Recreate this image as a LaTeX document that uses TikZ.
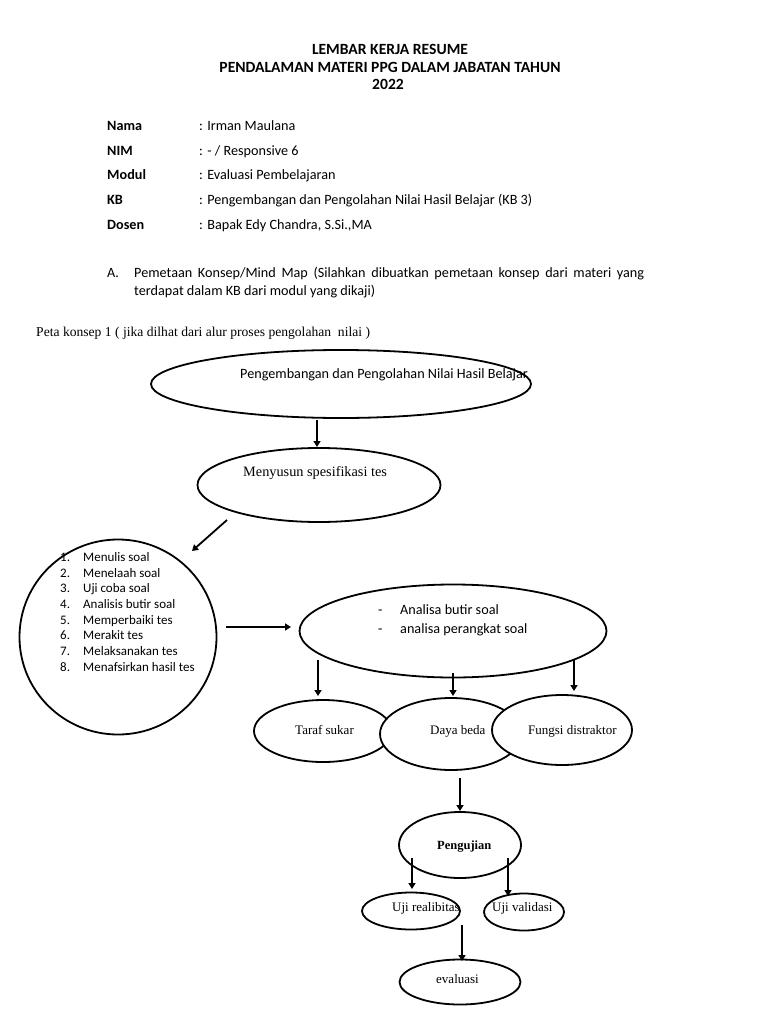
\documentclass[tikz,border=0pt]{standalone}
\usepackage{fontspec}
\setmainfont{Carlito}
\newfontfamily\timesf{Liberation Serif}
\usetikzlibrary{shapes.geometric,arrows.meta}
\tikzset{
  oval/.style={draw, fill=white, ellipse, line width=1.8pt, inner sep=0pt},
  conn/.style={line width=1.8pt, -{Triangle[length=6pt,width=7pt]}},
  txt/.style={inner sep=0pt, anchor=mid west, font=\fontsize{14.2}{17}\selectfont},
  ttl/.style={inner sep=0pt, anchor=mid, font=\fontsize{15.6}{18}\selectfont\bfseries},
  lbl/.style={inner sep=0pt, anchor=mid west, font=\fontsize{14.2}{17}\selectfont\bfseries},
  tm/.style={inner sep=0pt, anchor=mid west, font=\timesf\fontsize{13}{15}\selectfont},
  lst/.style={inner sep=0pt, anchor=mid west, font=\fontsize{13}{15}\selectfont}
}
\begin{document}
\begin{tikzpicture}[x=1pt,y=-1pt]
\useasboundingbox[fill=white] (0,0) rectangle (768,1024);
% header
\node[ttl] (t1) at (390,52) {LEMBAR KERJA RESUME};
\node[ttl] (t2) at (390,70) {PENDALAMAN MATERI PPG DALAM JABATAN TAHUN};
\node[ttl] (t3) at (388,87) {2022};
\node[lbl] (l1) at (107,128) {Nama};
\node[lbl] (l2) at (107,153) {NIM};
\node[lbl] (l3) at (107,177) {Modul};
\node[lbl] (l4) at (107,202) {KB};
\node[lbl] (l5) at (107,227) {Dosen};
\node[txt] (v1) at (199,128) {: Irman Maulana};
\node[txt] (v2) at (199,153) {: - / Responsive 6};
\node[txt] (v3) at (199,177) {: Evaluasi Pembelajaran};
\node[txt] (v4) at (199,202) {: Pengembangan dan Pengolahan Nilai Hasil Belajar (KB 3)};
\node[txt] (v5) at (199,227) {: Bapak Edy Chandra, S.Si.,MA};
\node[txt] (a0) at (107,275) {A.};
\node[txt] (a1) at (134,275) {\makebox[510pt][s]{Pemetaan Konsep/Mind Map (Silahkan dibuatkan pemetaan konsep dari materi yang}};
\node[txt] (a2) at (134,293) {terdapat dalam KB dari modul yang dikaji)};
\node[tm, font=\timesf\fontsize{13.6}{16}\selectfont] (pk) at (36,334) {Peta konsep 1 ( jika dilhat dari alur proses pengolahan\ \ nilai )};
% ellipses
\node[oval, minimum width=380pt, minimum height=68pt] (e1) at (341,384) {};
\node[txt] (e1t) at (240,376) {Pengembangan dan Pengolahan Nilai Hasil Belajar};
\node[oval, minimum width=243pt, minimum height=74pt] (e2) at (319,485) {};
\node[tm, font=\timesf\fontsize{14.3}{17}\selectfont] (e2t) at (243,474) {Menyusun spesifikasi tes};
\node[oval, minimum width=197pt, minimum height=195pt] (e3) at (118,637) {};
\foreach \n/\t [count=\i] in {1/Menulis soal,2/Menelaah soal,3/Uji coba soal,4/Analisis butir soal,5/Memperbaiki tes,6/Merakit tes,7/Melaksanakan tes,8/Menafsirkan hasil tes}{
  \node[lst] (n\i) at (60,{559+15.7*(\i-1)}) {\n.};
  \node[lst] (i\i) at (83,{559+15.7*(\i-1)}) {\t};
}
\node[oval, minimum width=307pt, minimum height=93pt] (e4) at (453,631) {};
\node[txt] (d1) at (378,612) {-};
\node[txt] (d2) at (378,631) {-};
\node[txt] (e4a) at (400,612) {Analisa butir soal};
\node[txt] (e4b) at (400,631) {analisa perangkat soal};
\node[oval, minimum width=138pt, minimum height=62pt] (e5) at (323,731) {};
\node[oval, minimum width=142pt, minimum height=72pt] (e6) at (451,734) {};
\node[oval, minimum width=140pt, minimum height=70pt] (e7) at (562,730) {};
\node[tm] (e5t) at (295,732) {Taraf sukar};
\node[tm] (e6t) at (430,732) {Daya beda};
\node[tm] (e7t) at (528,732) {Fungsi distraktor};
\node[oval, minimum width=122pt, minimum height=66pt] (e8) at (460,845) {};
\node[tm, font=\timesf\bfseries\fontsize{12.5}{15}\selectfont] (e8t) at (437,847) {Pengujian};
\node[oval, minimum width=98pt, minimum height=37pt] (e9) at (411,911) {};
\node[oval, minimum width=80pt, minimum height=37pt] (e10) at (524,912) {};
\node[tm] (e9t) at (392,909) {Uji realibitas};
\node[tm] (e10t) at (492,909) {Uji validasi};
\node[oval, minimum width=121pt, minimum height=45pt] (e11) at (460,982) {};
\node[tm] (e11t) at (436,981) {evaluasi};
% arrow coordinates
\coordinate (p1a) at (317,420); \coordinate (p1b) at (317,447);
\coordinate (p2a) at (227,520); \coordinate (p2b) at (192,551);
\coordinate (p3a) at (226,627); \coordinate (p3b) at (291,627);
\coordinate (p4a) at (318,660); \coordinate (p4b) at (318,696);
\coordinate (p5a) at (453,673); \coordinate (p5b) at (453,696);
\coordinate (p6a) at (574,660); \coordinate (p6b) at (574,691);
\coordinate (p7a) at (460,778); \coordinate (p7b) at (460,811);
\coordinate (p8a) at (412,858); \coordinate (p8b) at (412,889);
\coordinate (p9a) at (508,858); \coordinate (p9b) at (508,896);
\coordinate (p10a) at (462,925); \coordinate (p10b) at (462,961);
\foreach \k in {1,...,10}{\draw[conn] (p\k a) -- (p\k b);}
\end{tikzpicture}
\end{document}
